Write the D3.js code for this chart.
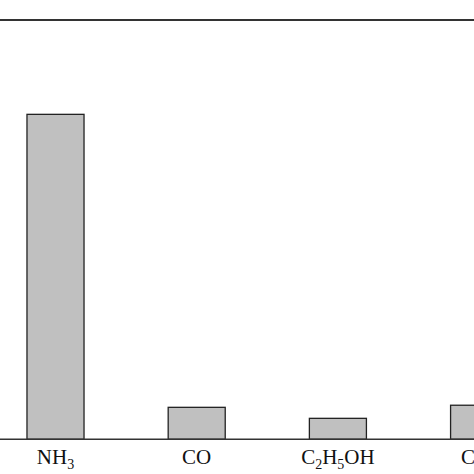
<!DOCTYPE html>
<html>
<head>
<meta charset="utf-8">
<script src="https://cdn.jsdelivr.net/npm/d3@7"></script>
<style>
  html, body { margin: 0; padding: 0; background: #fff; overflow: hidden; }
  svg { display: block; }
</style>
</head>
<body>
<svg id="chart" width="474" height="474"></svg>
<script>
// Data read from the (cropped) reference chart
const categories = ["NH3", "CO", "C2H5OH", "CH4"];
const values = [31.0, 3.05, 2.0, 3.25];
// label pieces: [text, isSubscript]
const labelParts = [
  [["NH", false], ["3", true]],
  [["CO", false]],
  [["C", false], ["2", true], ["H", false], ["5", true], ["OH", false]],
  [["CH", false], ["4", true]]
];
const yDomain = [0, 40];

const W = 474, H = 474;
const svg = d3.select("#chart");

const baseY = 439.3, topY = 20;
const y = d3.scaleLinear().domain(yDomain).range([baseY, topY]);

const step = 141.2;
const firstCenter = 55.5;
const x = d3.scaleBand()
  .domain(categories)
  .range([firstCenter - step / 2, firstCenter - step / 2 + step * categories.length])
  .paddingInner(0.596)
  .paddingOuter(0.298);

// bars
svg.append("g").selectAll("rect")
  .data(categories)
  .join("rect")
  .attr("x", d => x(d))
  .attr("y", (d, i) => y(values[i]))
  .attr("width", x.bandwidth())
  .attr("height", (d, i) => y(0) - y(values[i]))
  .attr("fill", "#c0c0c0")
  .attr("stroke", "#222")
  .attr("stroke-width", 1.3);

// frame top line
svg.append("line")
  .attr("x1", 0).attr("x2", W)
  .attr("y1", y(yDomain[1])).attr("y2", y(yDomain[1]))
  .attr("stroke", "#333").attr("stroke-width", 2);

// baseline (x axis)
const xAxis = d3.axisBottom(x).tickSize(0).tickFormat("");
const gx = svg.append("g").attr("transform", `translate(0,${y(0)})`).call(xAxis);
gx.select(".domain").remove();
svg.append("line")
  .attr("x1", 0).attr("x2", W)
  .attr("y1", y(0)).attr("y2", y(0))
  .attr("stroke", "#333").attr("stroke-width", 1.5);

// category labels with subscripts
const labels = svg.append("g")
  .attr("font-family", "'Liberation Serif', 'Times New Roman', serif")
  .attr("font-size", 21)
  .attr("fill", "#111");

categories.forEach((c, i) => {
  const t = labels.append("text")
    .attr("x", x(c) + x.bandwidth() / 2)
    .attr("y", 464)
    .attr("text-anchor", "middle");
  let sub = false;
  labelParts[i].forEach(([txt, isSub]) => {
    const ts = t.append("tspan").text(txt);
    if (isSub && !sub) { ts.attr("font-size", 14).attr("dy", 5); sub = true; }
    else if (isSub && sub) { ts.attr("font-size", 14); }
    else if (!isSub && sub) { ts.attr("dy", -5); sub = false; }
  });
});
</script>
</body>
</html>
